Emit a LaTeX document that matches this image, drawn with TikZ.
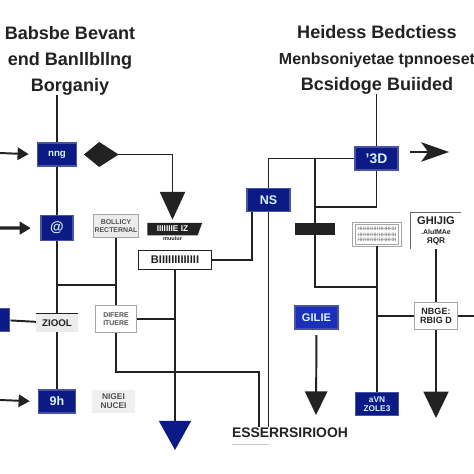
\documentclass[tikz,border=0pt]{standalone}
\usepackage{fontspec}
\setmainfont{Liberation Sans}
\usetikzlibrary{positioning,arrows.meta,shapes.geometric}

\definecolor{DARK_BLUE}{HTML}{0C1A86}
\definecolor{LIGHT_BLUE}{HTML}{1C2FB8}
\definecolor{INK}{HTML}{222222}
\definecolor{SMUDGE}{HTML}{505050}

\tikzstyle{heading}=[inner sep=0pt, align=center, text=INK, font=\fontsize{13}{18.5}\selectfont\bfseries]
\tikzstyle{layer}=[rectangle, inner sep=1pt, align=center, font=\fontsize{7}{7.5}\selectfont\bfseries]
\tikzstyle{blue_box}=[layer, fill=DARK_BLUE, draw=DARK_BLUE!75!white, line width=0.8pt, text=white!85!cyan, minimum width=30pt, minimum height=16.5pt]
\tikzstyle{gray_box}=[layer, fill=white, draw=gray!70, line width=0.7pt, text=SMUDGE, font=\fontsize{5}{5.5}\selectfont\bfseries, minimum width=30pt, minimum height=17pt]
\tikzstyle{wire}=[draw=INK, line width=1.4pt]
\tikzstyle{small_arrow}=[wire, -{Triangle[length=8pt,width=9pt]}]
\tikzstyle{down_arrow}=[wire, -{Triangle[length=19pt,width=18pt]}]
\tikzstyle{down_blue}=[wire, -{Triangle[length=21pt,width=23pt,color=DARK_BLUE]}]

\begin{document}
\begin{tikzpicture}[x=0.02532cm, y=-0.02532cm]
  \fill[white] (0,0) rectangle (474,474);
  \useasboundingbox (0,0) rectangle (474,474);

  %%%%%%%%%%%%%%%%%%%%%%%%%%%%%%%%%%%%%%%%%%%%%%%%%
  % HEADINGS
  %%%%%%%%%%%%%%%%%%%%%%%%%%%%%%%%%%%%%%%%%%%%%%%%%
  \node[heading] (LT) at (70,61) {Babsbe Bevant\\end Banllbllng\\Borganiy};
  \node[heading] (RT) at (377,60) {Heidess Bedctiess\\{\fontsize{11.5}{18.5}\selectfont Menbsoniyetae tpnnoeset}\\Bcsidoge Buiided};

  %%%%%%%%%%%%%%%%%%%%%%%%%%%%%%%%%%%%%%%%%%%%%%%%%
  % LEFT COLUMN
  %%%%%%%%%%%%%%%%%%%%%%%%%%%%%%%%%%%%%%%%%%%%%%%%%
  \node[blue_box, minimum width=28pt] (ENG) at (57,154.5) {nng};
  \node[blue_box, minimum width=23pt, minimum height=18pt, font=\fontsize{10}{10}\selectfont\bfseries, below=35pt of ENG] (GEAR) {@};
  \node[layer, text=INK, fill=gray!15, minimum width=30pt, minimum height=13pt] (ZOOL) at (57,323) {ZIOOL};
  \node[blue_box, minimum width=26.5pt, font=\fontsize{9}{9}\selectfont\bfseries] (PH) at (57,401.5) {9h};
  \node[blue_box, minimum width=10pt, minimum height=16pt] (EDGE) at (3,320) {};

  \node[gray_box, fill=gray!15, minimum width=32pt] (POLICY) at (116,226) {BOLLICY\\RECTERNAL};
  \node[gray_box, minimum width=29.5pt, minimum height=20pt] (DIFF) at (116,319) {DIFERE\\ITUERE};
  \node[gray_box, draw=none, fill=gray!12, minimum width=31pt, font=\fontsize{6}{6.5}\selectfont\bfseries] (NIGE) at (113.5,401.5) {NIGEI\\NUCEI};

  % middle
  \node[trapezium, trapezium left angle=70, trapezium right angle=90, shape border rotate=180,
        fill=INK, text=white, inner sep=1pt, font=\fontsize{6}{6}\selectfont\bfseries,
        minimum width=34pt, minimum height=9pt,
        label={[font=\fontsize{4}{4}\selectfont\bfseries, text=INK, inner sep=0.5pt]below:muuiur}] (SLANT) at (172.5,229) {IIIIIIIE IZ};
  \node[layer, draw=INK, line width=1pt, fill=white, text=INK, minimum width=53pt, minimum height=14pt,
        font=\fontsize{8}{8}\selectfont\bfseries] (SLAB) at (175,260) {BIIIIIIIIIIIII};
  \node[inner sep=0pt, text=INK, font=\fontsize{10}{10}\selectfont\bfseries] (ESS) at (290,432.5) {ESSERRSIRIOOH};

  %%%%%%%%%%%%%%%%%%%%%%%%%%%%%%%%%%%%%%%%%%%%%%%%%
  % RIGHT PART
  %%%%%%%%%%%%%%%%%%%%%%%%%%%%%%%%%%%%%%%%%%%%%%%%%
  \node[blue_box, minimum width=31pt, minimum height=17pt, font=\fontsize{9}{9}\selectfont\bfseries] (NS) at (268.5,200) {NS};
  \node[blue_box, minimum width=31pt, font=\fontsize{10}{10}\selectfont\bfseries] (XD) at (376.5,158.5) {'3D};
  \node[fill=INK, inner sep=0pt, minimum width=28.5pt, minimum height=8pt] (PLATE) at (315,229) {};
  \node[gray_box, double, double distance=1.2pt, minimum width=33pt, minimum height=16pt,
        font=\fontsize{3.5}{3.8}\selectfont] (GRID) at (377,234.5) {HHHHHHHHHHH\\HHHHHHHHHHH\\HHHHHHHHHHH};
  \node[layer, text=INK, minimum width=36pt, minimum height=26pt, font=\fontsize{8}{7}\selectfont\bfseries] (GLYPH) at (436,231)
        {GHIJIG\\{\fontsize{5}{5}\selectfont .AlulMAe}\\{\fontsize{6}{6}\selectfont ЯQR}};
  \node[gray_box, text=INK, font=\fontsize{6.5}{7}\selectfont\bfseries, minimum width=31pt, minimum height=20pt] (NBGE) at (436,316) {NBGE:\\RBIG D};
  \node[blue_box, fill=LIGHT_BLUE, minimum width=31pt, font=\fontsize{8}{8}\selectfont\bfseries] (GILIE) at (316.5,317.5) {GILIE};
  \node[blue_box, minimum width=31.5pt, minimum height=17pt, font=\fontsize{6}{6.5}\selectfont\bfseries] (SVN) at (377,404) {aVN\\ZOLE3};

  \coordinate (IN1) at (0,153);
  \coordinate (IN2) at (0,228);
  \coordinate (IN3) at (0,400);
  \coordinate (FORK) at (116,285);
  \coordinate (LINK) at (259,372);
  \coordinate (SINK) at (175,450);
  \coordinate (TEE) at (315,207);
  \coordinate (ELBOW) at (377,287);
  \coordinate (RIM) at (474,316);
  \coordinate (OUTS) at (410,152);
  \coordinate (OUT) at (449,152);
  \coordinate (DROP1) at (436,418);
  \coordinate (DROP2) at (316,415);

  % frames and rules
  \draw[INK, line width=1pt] (ZOOL.north west) -- (ZOOL.north east);
  \draw[gray!80!black, line width=0.8pt] (GLYPH.south west) |- (GLYPH.north east);
  \draw[gray!45, line width=1pt] ([yshift=-5pt]ESS.south west) -- ([yshift=-5pt,xshift=-15pt]ESS.south);

  %%%%%%%%%%%%%%%%%%%%%%%%%%%%%%%%%%%%%%%%%%%%%%%%%
  % CONNECTORS
  %%%%%%%%%%%%%%%%%%%%%%%%%%%%%%%%%%%%%%%%%%%%%%%%%
  \draw[wire] (LT.south -| ENG.north) -- (ENG.north);
  \draw[small_arrow, shorten >=6pt] (IN1) -- (ENG.west);
  \draw[wire, {Kite[length=25pt,width=18pt,inset=14pt]}-{Triangle[length=20pt,width=18pt]}, shorten <=5pt, shorten >=2pt]
        (ENG.east) -| (SLANT.north);
  \draw[wire] (ENG) -- (GEAR);
  \draw[small_arrow, line width=2.4pt, shorten >=7pt] (IN2) -- (GEAR.west);
  \draw[wire] (GEAR) -- (ZOOL);
  \draw[wire] (FORK -| GEAR.south) -- (FORK);
  \draw[wire] (POLICY.south) -- (DIFF.north);
  \draw[wire] (EDGE) -- (ZOOL);
  \draw[wire] (ZOOL) -- (PH);
  \draw[small_arrow, shorten >=6pt] (IN3) -- (PH.west);

  \draw[down_blue] (SLAB.south) -- (SINK);
  \draw[wire] (DIFF.east) -- (DIFF.east -| SLAB.south);
  \draw[wire] (DIFF.south) |- (LINK) -- (LINK |- ESS.north);
  \draw[wire] (SLAB.east) -| ([xshift=-11.8pt]NS.south);
  \draw[wire] (NS.south) -- (NS.south |- ESS.north);

  \draw[wire] (RT.south -| XD.north) -- (XD.north);
  \draw[wire] (XD.west) -| (NS.north);
  \draw[wire] (XD.south) |- (TEE);
  \draw[wire] (PLATE |- XD.west) |- (ELBOW);
  \draw[wire, -{Stealth[length=20pt,width=14pt,inset=5pt]}] (OUTS) -- (OUT);
  \draw[wire] (GRID) -- (SVN);
  \draw[wire] (GRID.south |- NBGE.west) -- (NBGE.west);
  \draw[wire] (NBGE.east) -- (RIM);
  \draw[wire] (GLYPH.south) -- (NBGE.north);
  \draw[down_arrow] (NBGE.south) -- (DROP1);
  \draw[wire, -{Triangle[length=17pt,width=16pt]}, shorten <=4pt] (GILIE.south) -- (DROP2);
\end{tikzpicture}
\end{document}
